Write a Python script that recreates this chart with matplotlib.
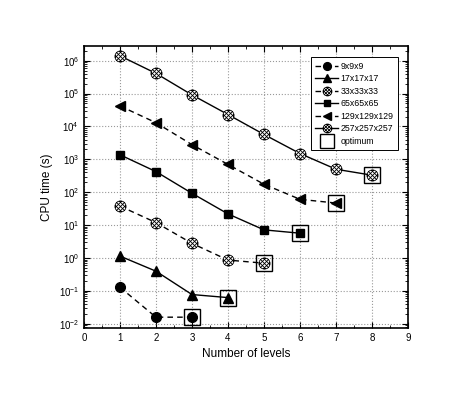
import numpy as np
import matplotlib.pyplot as plt
from matplotlib.path import Path
from matplotlib.ticker import MultipleLocator, FixedLocator, NullFormatter, LogFormatterSciNotation

plt.rcParams['font.family'] = ['Liberation Sans', 'DejaVu Sans']

# data
labels = ["9x9x9", "17x17x17", "33x33x33", "65x65x65", "129x129x129", "257x257x257"]
levels_9 = [1, 2, 3]
time_9 = [0.13, 0.016, 0.016]
levels_17 = [1, 2, 3, 4]
time_17 = [1.15, 0.40, 0.078, 0.063]
levels_33 = [1, 2, 3, 4, 5]
time_33 = [38, 12, 2.8, 0.87, 0.70]
levels_65 = [1, 2, 3, 4, 5, 6]
time_65 = [1380, 425, 93, 22, 7.2, 5.7]
levels_129 = [1, 2, 3, 4, 5, 6, 7]
time_129 = [42000, 13000, 2800, 700, 175, 61, 47]
levels_257 = [1, 2, 3, 4, 5, 6, 7, 8]
time_257 = [1.4e6, 4.1e5, 9.1e4, 2.3e4, 5700, 1500, 500, 330]

opt_levels = [3, 4, 5, 6, 7, 8]
opt_time = [0.016, 0.063, 0.70, 5.7, 47, 330]

# circle with a cross-hatch inside, for the 33 and 257 series
circ = Path.unit_circle()
verts = [(-0.7, -0.7), (0.7, 0.7), (-0.7, 0.7), (0.7, -0.7),
         (-0.2, -0.95), (0.95, 0.2), (-0.95, -0.2), (0.2, 0.95),
         (0.2, -0.95), (-0.95, 0.2), (0.95, -0.2), (-0.2, 0.95)]
codes = [Path.MOVETO, Path.LINETO] * 6
xcirc = Path.make_compound_path(circ, Path(verts, codes))

fig = plt.figure(figsize=(4.74, 3.95), dpi=100)
ax = fig.add_axes([0.177, 0.170, 0.684, 0.714])

dash = (0, (4, 3))
ax.plot(levels_9, time_9, color='k', ls=dash, lw=1, marker='o', ms=7, label=labels[0])
ax.plot(levels_17, time_17, color='k', ls='-', lw=1, marker='^', ms=7, label=labels[1])
ax.plot(levels_33, time_33, color='k', ls=dash, lw=1, marker=xcirc, ms=8, mfc='white',
        mew=0.6, label=labels[2])
ax.plot(levels_65, time_65, color='k', ls='-', lw=1, marker='s', ms=6, label=labels[3])
ax.plot(levels_129, time_129, color='k', ls=dash, lw=1, marker='<', ms=7, label=labels[4])
ax.plot(levels_257, time_257, color='k', ls='-', lw=1, marker=xcirc, ms=8, mfc='white',
        mew=0.6, label=labels[5])
ax.plot(opt_levels, opt_time, ls='none', marker='s', ms=12, mfc='none', mec='k',
        mew=1.0, label='optimum')

ax.set_yscale('log')
ax.set_xlim(0, 9)
ax.set_ylim(10**-2.12, 10**6.45)
ax.xaxis.set_major_locator(MultipleLocator(1))
ax.xaxis.set_minor_locator(MultipleLocator(0.5))
decades = np.arange(-2, 7)
ax.yaxis.set_major_locator(FixedLocator(10.0**decades))
ax.yaxis.set_major_formatter(LogFormatterSciNotation())
minors = [m * 10.0**d for d in np.arange(-3, 7) for m in range(2, 10)]
ax.yaxis.set_minor_locator(FixedLocator(minors))
ax.yaxis.set_minor_formatter(NullFormatter())
ax.tick_params(which='both', direction='in', top=True, right=True, labelsize=7)
ax.tick_params(which='major', length=4)
ax.tick_params(which='minor', length=2)
ax.grid(True, which='major', ls=':', color='#999999', lw=0.8)
for s in ax.spines.values():
    s.set_linewidth(1.2)

ax.set_xlabel("Number of levels", fontsize=8.5)
ax.set_ylabel("CPU time (s)", fontsize=8.5)

leg = ax.legend(loc='upper right', bbox_to_anchor=(0.982, 0.975), fontsize=6.3,
                fancybox=False, edgecolor='k', framealpha=1, handlelength=2.6,
                labelspacing=0.4, borderpad=0.5, handletextpad=0.3, markerscale=0.8)
leg.get_frame().set_linewidth(0.7)

fig.savefig("out.png", dpi=100)
